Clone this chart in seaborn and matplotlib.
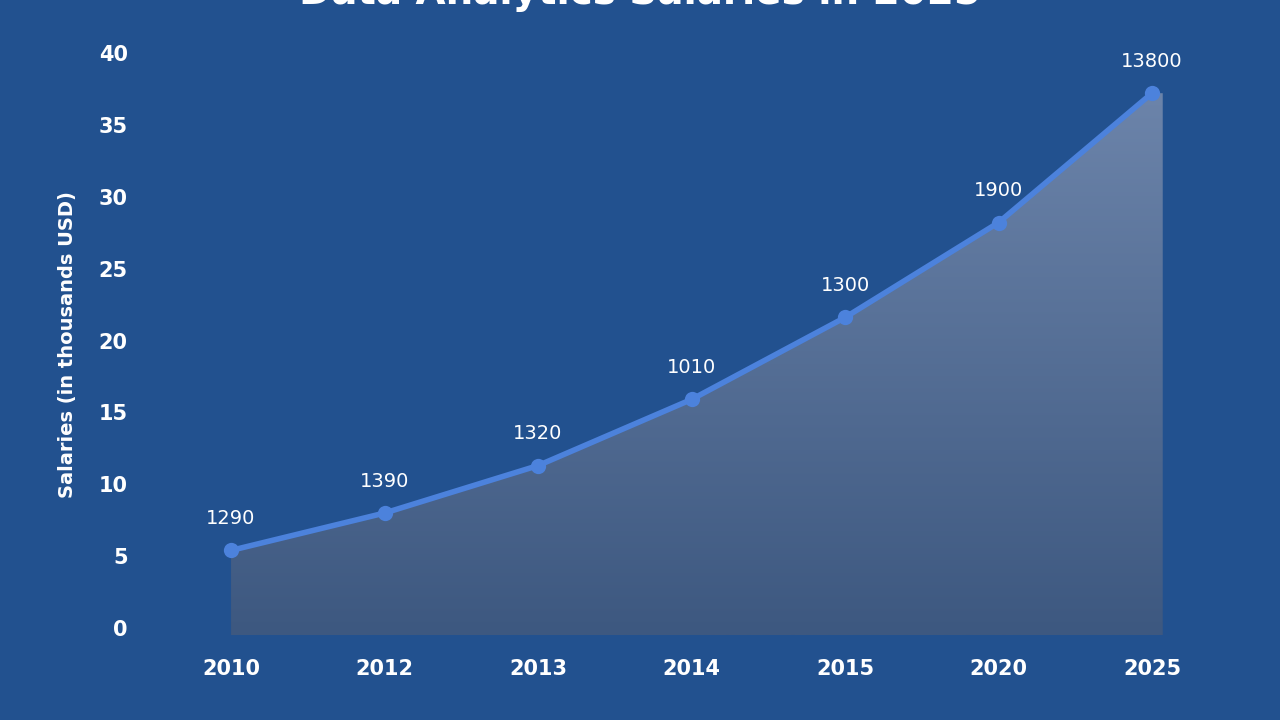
import numpy as np
import pandas as pd
import matplotlib
matplotlib.use("Agg")
import matplotlib.pyplot as plt
import seaborn as sns
from matplotlib.colors import LinearSegmentedColormap
from matplotlib.patches import Polygon

# ---- data ----
years = ["2010", "2012", "2013", "2014", "2015", "2020", "2025"]
salaries = [5.4, 8.0, 11.3, 15.9, 21.6, 28.2, 37.2]
point_labels = ["1290", "1390", "1320", "1010", "1300", "1900", "13800"]
y_ticks = [0, 5, 10, 15, 20, 25, 30, 35, 40]
title = "Data Analytics Salaries in 2025"
y_label = "Salaries (in thousands USD)"

bg = "#22518f"
line_c = "#4c82dc"

sns.set_theme(style="white")
plt.rcParams["font.family"] = ["DejaVu Sans"]

fig = plt.figure(figsize=(12.8, 7.2), dpi=100)
fig.patch.set_facecolor(bg)
ax = fig.add_axes([150 / 1280, 1 - 640 / 720, 1070 / 1280, 600 / 720])
ax.set_facecolor(bg)

df = pd.DataFrame({"year": years, "salary": salaries})
df["pos"] = np.arange(len(years))

# gradient fill under the curve
x_end = df["pos"].iloc[-1] + 0.07
xs = list(df["pos"]) + [x_end, x_end, df["pos"].iloc[0]]
ys = list(df["salary"]) + [df["salary"].iloc[-1], -0.5, -0.5]
poly = Polygon(np.column_stack([xs, ys]), closed=True, facecolor="none", edgecolor="none")
ax.add_patch(poly)
cmap = LinearSegmentedColormap.from_list("g", ["#3d5880", "#6c84aa"])
grad = np.linspace(0, 1, 256).reshape(-1, 1)
im = ax.imshow(grad, cmap=cmap, origin="lower", aspect="auto",
               extent=[df["pos"].iloc[0], x_end, -0.5, max(salaries)],
               zorder=1)
im.set_clip_path(poly)

sns.lineplot(data=df, x="pos", y="salary", ax=ax, color=line_c, linewidth=4,
             marker="o", markersize=11, markeredgewidth=0, zorder=3)

for x, y, lab in zip(df["pos"], df["salary"], point_labels):
    ax.annotate(lab, (x, y), xytext=(0, 16), textcoords="offset points",
                ha="center", va="bottom", color="white", fontsize=14, zorder=4)

ax.set_xlim(-0.528, 6.443)
ax.set_ylim(-0.83, 40.9)
ax.set_xticks(df["pos"])
ax.set_xticklabels(years)
ax.set_yticks(y_ticks)
ax.set_yticklabels([str(t) for t in y_ticks])
ax.tick_params(axis="x", colors="white", labelsize=15, length=0, pad=14)
ax.tick_params(axis="y", colors="white", labelsize=15, length=0, pad=16)
for lab in ax.get_xticklabels() + ax.get_yticklabels():
    lab.set_fontweight("bold")
ax.set_xlabel("")
ax.set_ylabel("")
for s in ax.spines.values():
    s.set_visible(False)
ax.grid(False)

fig.text(68 / 1280, 1 - 345 / 720, y_label, rotation=90, color="white",
         fontsize=14, fontweight="bold", ha="center", va="center")
fig.text(0.5, 1 - 4 / 720, title, color="white", fontsize=28, fontweight="bold",
         ha="center", va="baseline")

fig.savefig("out.png", dpi=100, facecolor=bg)
